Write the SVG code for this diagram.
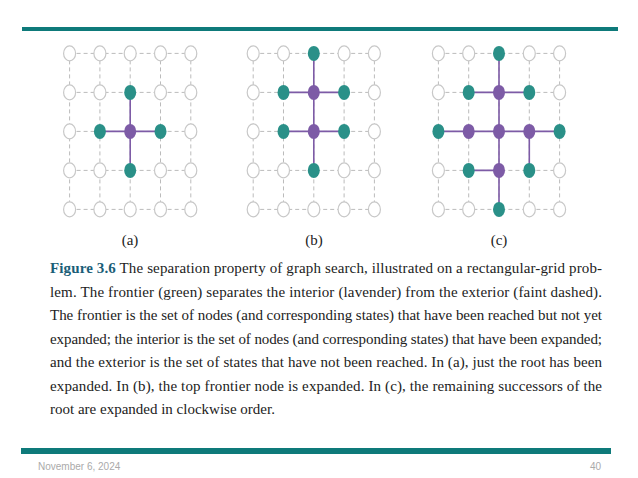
<svg xmlns="http://www.w3.org/2000/svg" width="638" height="478" viewBox="0 0 638 478">
<style>
.g{stroke:#bbb;stroke-width:1;stroke-dasharray:4,3;fill:none}
.e{stroke:#7d5ba6;stroke-width:1.6}
.n{fill:#fff;stroke:#c8c8c8;stroke-width:1.2}
.f{fill:#2a9088}
.i{fill:#7d5ba6}
.c{font-family:"Liberation Serif",serif;font-size:15px;fill:#222}
.l{font-family:"Liberation Serif",serif;font-size:15px;fill:#222;text-anchor:middle}
.ft{font-family:"Liberation Sans",sans-serif;font-size:10px;fill:#aaa}
</style>
<defs>
<g id="grid">
<path class="g" d="M0 0H121.2M0 39H121.2M0 78H121.2M0 117H121.2M0 156H121.2M0 0V156M30.3 0V156M60.6 0V156M90.9 0V156M121.2 0V156"/>
</g>
<ellipse id="o" rx="6" ry="7.5"/>
</defs>
<rect width="638" height="478" fill="#fff"/>
<rect x="22" y="27" width="596" height="4" fill="#0e7a7a"/>
<rect x="21" y="448" width="590" height="6" fill="#0e7a7a"/>

<g id="gridA" transform="translate(69.6,53.4)">
<use href="#grid"/>
<g id="connectorsA">
<path class="e" d="M60.6 39V117M30.3 78H90.9"/>
</g>
<g class="n">
<use href="#o" x="0" y="0"/><use href="#o" x="30.3" y="0"/><use href="#o" x="60.6" y="0"/><use href="#o" x="90.9" y="0"/><use href="#o" x="121.2" y="0"/>
<use href="#o" x="0" y="39"/><use href="#o" x="30.3" y="39"/><use href="#o" x="90.9" y="39"/><use href="#o" x="121.2" y="39"/>
<use href="#o" x="0" y="78"/><use href="#o" x="121.2" y="78"/>
<use href="#o" x="0" y="117"/><use href="#o" x="30.3" y="117"/><use href="#o" x="90.9" y="117"/><use href="#o" x="121.2" y="117"/>
<use href="#o" x="0" y="156"/><use href="#o" x="30.3" y="156"/><use href="#o" x="60.6" y="156"/><use href="#o" x="90.9" y="156"/><use href="#o" x="121.2" y="156"/>
</g>
<g class="f"><use href="#o" x="60.6" y="39"/><use href="#o" x="30.3" y="78"/><use href="#o" x="90.9" y="78"/><use href="#o" x="60.6" y="117"/></g>
<g class="i"><use href="#o" x="60.6" y="78"/></g>
</g>

<g id="gridB" transform="translate(253.2,53.4)">
<use href="#grid"/>
<g id="connectorsB">
<path class="e" d="M60.6 0V117M30.3 39H90.9M30.3 78H90.9"/>
</g>
<g class="n">
<use href="#o" x="0" y="0"/><use href="#o" x="30.3" y="0"/><use href="#o" x="90.9" y="0"/><use href="#o" x="121.2" y="0"/>
<use href="#o" x="0" y="39"/><use href="#o" x="121.2" y="39"/>
<use href="#o" x="0" y="78"/><use href="#o" x="121.2" y="78"/>
<use href="#o" x="0" y="117"/><use href="#o" x="30.3" y="117"/><use href="#o" x="90.9" y="117"/><use href="#o" x="121.2" y="117"/>
<use href="#o" x="0" y="156"/><use href="#o" x="30.3" y="156"/><use href="#o" x="60.6" y="156"/><use href="#o" x="90.9" y="156"/><use href="#o" x="121.2" y="156"/>
</g>
<g class="f"><use href="#o" x="60.6" y="0"/><use href="#o" x="30.3" y="39"/><use href="#o" x="90.9" y="39"/><use href="#o" x="30.3" y="78"/><use href="#o" x="90.9" y="78"/><use href="#o" x="60.6" y="117"/></g>
<g class="i"><use href="#o" x="60.6" y="39"/><use href="#o" x="60.6" y="78"/></g>
</g>

<g id="gridC" transform="translate(438.4,53.4)">
<use href="#grid"/>
<g id="connectorsC">
<path class="e" d="M60.6 0V156M30.3 39H90.9M0 78H121.2M30.3 117H60.6M90.9 78V117"/>
</g>
<g class="n">
<use href="#o" x="0" y="0"/><use href="#o" x="30.3" y="0"/><use href="#o" x="90.9" y="0"/><use href="#o" x="121.2" y="0"/>
<use href="#o" x="0" y="39"/><use href="#o" x="121.2" y="39"/>
<use href="#o" x="0" y="117"/><use href="#o" x="121.2" y="117"/>
<use href="#o" x="0" y="156"/><use href="#o" x="30.3" y="156"/><use href="#o" x="90.9" y="156"/><use href="#o" x="121.2" y="156"/>
</g>
<g class="f"><use href="#o" x="60.6" y="0"/><use href="#o" x="30.3" y="39"/><use href="#o" x="90.9" y="39"/><use href="#o" x="0" y="78"/><use href="#o" x="121.2" y="78"/><use href="#o" x="30.3" y="117"/><use href="#o" x="90.9" y="117"/><use href="#o" x="60.6" y="156"/></g>
<g class="i"><use href="#o" x="60.6" y="39"/><use href="#o" x="30.3" y="78"/><use href="#o" x="60.6" y="78"/><use href="#o" x="90.9" y="78"/><use href="#o" x="60.6" y="117"/></g>
</g>

<text class="l" x="130" y="245">(a)</text>
<text class="l" x="314" y="245">(b)</text>
<text class="l" x="499" y="245">(c)</text>

<g id="caption">
<text class="c" x="50" y="273" textLength="552" lengthAdjust="spacing"><tspan font-weight="bold" fill="#1a5e78">Figure 3.6</tspan> The separation property of graph search, illustrated on a rectangular-grid prob-</text>
<text class="c" x="50" y="296.5" textLength="552" lengthAdjust="spacing">lem.  The frontier (green) separates the interior (lavender) from the exterior (faint dashed).</text>
<text class="c" x="50" y="320" textLength="552" lengthAdjust="spacing">The frontier is the set of nodes (and corresponding states) that have been reached but not yet</text>
<text class="c" x="50" y="343.5" textLength="552" lengthAdjust="spacing">expanded; the interior is the set of nodes (and corresponding states) that have been expanded;</text>
<text class="c" x="50" y="367" textLength="552" lengthAdjust="spacing">and the exterior is the set of states that have not been reached.  In (a), just the root has been</text>
<text class="c" x="50" y="390.5" textLength="552" lengthAdjust="spacing">expanded.  In (b), the top frontier node is expanded.  In (c), the remaining successors of the</text>
<text class="c" x="50" y="414">root are expanded in clockwise order.</text>
</g>
<text class="ft" x="38" y="470">November 6, 2024</text>
<text class="ft" x="590" y="470">40</text>
</svg>
